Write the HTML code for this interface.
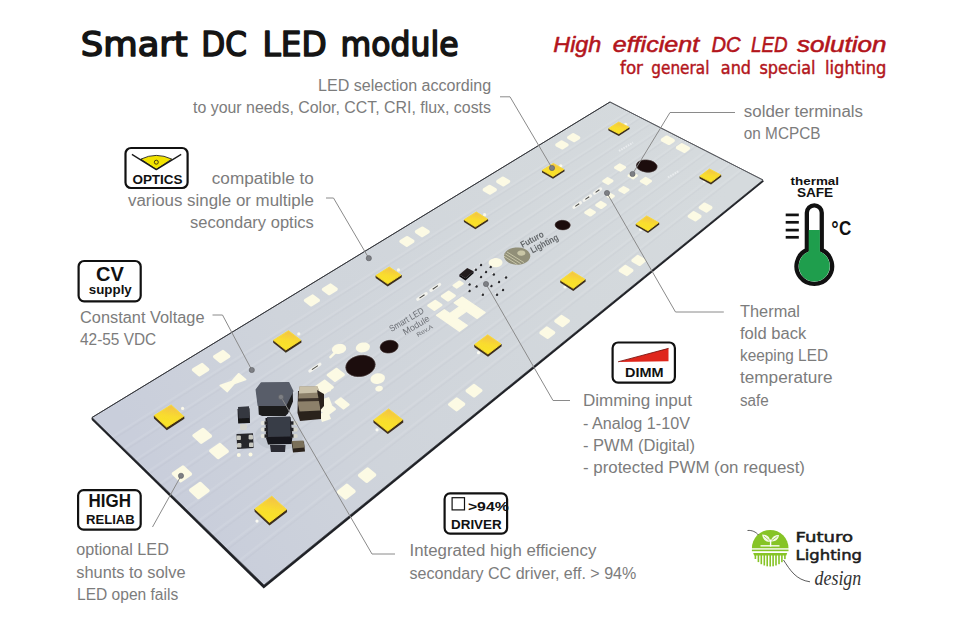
<!DOCTYPE html>
<html><head><meta charset="utf-8"><title>Smart DC LED module</title>
<style>
html,body{margin:0;padding:0;background:#fff;}
body{width:960px;height:640px;overflow:hidden;}
svg{display:block;font-family:"Liberation Sans",sans-serif;}
</style></head><body>
<svg width="960" height="640" viewBox="0 0 960 640">
<rect width="960" height="640" fill="#fff"/>
<g id="board">
<defs>
<linearGradient id="gb" gradientUnits="userSpaceOnUse" x1="180" y1="500" x2="690" y2="140"><stop offset="0" stop-color="#c9cedb"/><stop offset="0.3" stop-color="#cfd4db"/><stop offset="0.7" stop-color="#d3d8dc"/><stop offset="1" stop-color="#d5dadd"/></linearGradient>
<linearGradient id="gl" x1="0.35" y1="1" x2="0.6" y2="0"><stop offset="0" stop-color="#fae527"/><stop offset="0.5" stop-color="#f9dc2e"/><stop offset="1" stop-color="#f3bf4a"/></linearGradient>
<clipPath id="cb"><polygon points="92.0,417.5 610.0,102.0 763.0,180.0 264.0,585.0"/></clipPath>
<filter id="bl" x="-2%" y="-2%" width="104%" height="104%"><feGaussianBlur stdDeviation="0.45"/></filter>
</defs>
<polygon points="91.4,417.7 91.8,420.1 263.7,588.5 763.8,181.6 763.0,180.0" fill="#1f2126"/>
<polygon points="92.0,417.5 610.0,102.0 763.0,180.0 264.0,585.0" fill="url(#gb)" stroke="#3a3b40" stroke-width="0.7"/>
<polyline points="92.0,417.5 610.0,102.0" fill="none" stroke="#34363b" stroke-width="1.0"/>
<polyline points="610.0,102.0 763.0,180.0" fill="none" stroke="#55575c" stroke-width="0.9"/>
<g clip-path="url(#cb)" fill="none">
<line x1="112.0" y1="436.9" x2="628.5" y2="111.4" stroke="#ffffff" stroke-opacity="0.09" stroke-width="2.2"/>
<line x1="113.8" y1="438.8" x2="630.2" y2="112.3" stroke="#9aa0ad" stroke-opacity="0.07" stroke-width="1.4"/>
<line x1="123.6" y1="448.3" x2="639.2" y2="116.9" stroke="#ffffff" stroke-opacity="0.09" stroke-width="2.2"/>
<line x1="125.5" y1="450.2" x2="640.9" y2="117.8" stroke="#9aa0ad" stroke-opacity="0.07" stroke-width="1.4"/>
<line x1="135.5" y1="459.9" x2="650.0" y2="122.4" stroke="#ffffff" stroke-opacity="0.09" stroke-width="2.2"/>
<line x1="137.4" y1="461.7" x2="651.8" y2="123.3" stroke="#9aa0ad" stroke-opacity="0.07" stroke-width="1.4"/>
<line x1="147.6" y1="471.6" x2="661.0" y2="128.0" stroke="#ffffff" stroke-opacity="0.09" stroke-width="2.2"/>
<line x1="149.6" y1="473.6" x2="662.8" y2="128.9" stroke="#9aa0ad" stroke-opacity="0.07" stroke-width="1.4"/>
<line x1="159.9" y1="483.6" x2="672.1" y2="133.7" stroke="#ffffff" stroke-opacity="0.09" stroke-width="2.2"/>
<line x1="161.9" y1="485.6" x2="673.9" y2="134.6" stroke="#9aa0ad" stroke-opacity="0.07" stroke-width="1.4"/>
<line x1="172.5" y1="495.9" x2="683.3" y2="139.4" stroke="#ffffff" stroke-opacity="0.09" stroke-width="2.2"/>
<line x1="174.5" y1="497.9" x2="685.2" y2="140.3" stroke="#9aa0ad" stroke-opacity="0.07" stroke-width="1.4"/>
<line x1="185.3" y1="508.3" x2="694.7" y2="145.2" stroke="#ffffff" stroke-opacity="0.09" stroke-width="2.2"/>
<line x1="187.4" y1="510.4" x2="696.6" y2="146.1" stroke="#9aa0ad" stroke-opacity="0.07" stroke-width="1.4"/>
<line x1="198.3" y1="521.0" x2="706.2" y2="151.0" stroke="#ffffff" stroke-opacity="0.09" stroke-width="2.2"/>
<line x1="200.4" y1="523.1" x2="708.1" y2="152.0" stroke="#9aa0ad" stroke-opacity="0.07" stroke-width="1.4"/>
<line x1="211.6" y1="534.0" x2="717.9" y2="157.0" stroke="#ffffff" stroke-opacity="0.09" stroke-width="2.2"/>
<line x1="213.8" y1="536.1" x2="719.8" y2="158.0" stroke="#9aa0ad" stroke-opacity="0.07" stroke-width="1.4"/>
<line x1="225.2" y1="547.2" x2="729.7" y2="163.0" stroke="#ffffff" stroke-opacity="0.09" stroke-width="2.2"/>
<line x1="227.4" y1="549.4" x2="731.6" y2="164.0" stroke="#9aa0ad" stroke-opacity="0.07" stroke-width="1.4"/>
<line x1="239.0" y1="560.7" x2="741.6" y2="169.1" stroke="#ffffff" stroke-opacity="0.09" stroke-width="2.2"/>
<line x1="241.3" y1="562.9" x2="743.6" y2="170.1" stroke="#9aa0ad" stroke-opacity="0.07" stroke-width="1.4"/>
</g>
<g filter="url(#bl)">
<polygon points="193.5,369.8 202.0,364.6 207.7,369.5 199.3,374.8" fill="#fcfae4" stroke="#fcfae4" stroke-width="3.4" stroke-linejoin="round"/>
<polygon points="214.7,356.7 222.9,351.6 228.7,356.4 220.5,361.5" fill="#fcfae4" stroke="#fcfae4" stroke-width="3.4" stroke-linejoin="round"/>
<polygon points="305.5,300.5 312.6,296.1 318.3,300.4 311.2,304.8" fill="#fcfae4" stroke="#fcfae4" stroke-width="3.4" stroke-linejoin="round"/>
<polygon points="323.5,289.4 330.4,285.1 336.1,289.2 329.2,293.6" fill="#fcfae4" stroke="#fcfae4" stroke-width="3.4" stroke-linejoin="round"/>
<polygon points="401.0,241.4 407.1,237.6 412.8,241.3 406.6,245.2" fill="#fcfae4" stroke="#fcfae4" stroke-width="3.4" stroke-linejoin="round"/>
<polygon points="416.5,231.8 422.4,228.1 428.1,231.8 422.1,235.5" fill="#fcfae4" stroke="#fcfae4" stroke-width="3.4" stroke-linejoin="round"/>
<polygon points="484.3,189.8 489.6,186.5 495.2,189.8 489.9,193.1" fill="#fcfae4" stroke="#fcfae4" stroke-width="3.4" stroke-linejoin="round"/>
<polygon points="497.8,181.5 502.9,178.3 508.5,181.5 503.3,184.7" fill="#fcfae4" stroke="#fcfae4" stroke-width="3.4" stroke-linejoin="round"/>
<polygon points="556.9,144.9 561.6,142.0 567.0,144.9 562.3,147.8" fill="#fcfae4" stroke="#fcfae4" stroke-width="3.4" stroke-linejoin="round"/>
<polygon points="568.7,137.6 573.2,134.8 578.6,137.7 574.1,140.5" fill="#fcfae4" stroke="#fcfae4" stroke-width="3.4" stroke-linejoin="round"/>
<polygon points="338.6,491.9 346.9,485.3 354.0,491.3 345.6,498.0" fill="#fcfae4" stroke="#fcfae4" stroke-width="3.4" stroke-linejoin="round"/>
<polygon points="359.6,475.4 367.6,469.1 374.6,474.9 366.6,481.3" fill="#fcfae4" stroke="#fcfae4" stroke-width="3.4" stroke-linejoin="round"/>
<polygon points="449.7,404.5 456.7,399.1 463.6,404.2 456.6,409.7" fill="#fcfae4" stroke="#fcfae4" stroke-width="3.4" stroke-linejoin="round"/>
<polygon points="467.2,390.8 474.0,385.5 480.8,390.5 474.1,395.8" fill="#fcfae4" stroke="#fcfae4" stroke-width="3.4" stroke-linejoin="round"/>
<polygon points="541.0,332.8 546.9,328.1 553.6,332.6 547.8,337.2" fill="#fcfae4" stroke="#fcfae4" stroke-width="3.4" stroke-linejoin="round"/>
<polygon points="555.9,321.1 561.6,316.6 568.3,320.9 562.6,325.5" fill="#fcfae4" stroke="#fcfae4" stroke-width="3.4" stroke-linejoin="round"/>
<polygon points="620.3,270.5 625.3,266.5 631.8,270.4 626.8,274.4" fill="#fcfae4" stroke="#fcfae4" stroke-width="3.4" stroke-linejoin="round"/>
<polygon points="633.0,260.5 637.9,256.6 644.4,260.4 639.5,264.3" fill="#fcfae4" stroke="#fcfae4" stroke-width="3.4" stroke-linejoin="round"/>
<polygon points="689.3,216.3 693.6,212.8 699.9,216.3 695.5,219.7" fill="#fcfae4" stroke="#fcfae4" stroke-width="3.4" stroke-linejoin="round"/>
<polygon points="700.3,207.6 704.6,204.2 710.8,207.6 706.5,211.0" fill="#fcfae4" stroke="#fcfae4" stroke-width="3.4" stroke-linejoin="round"/>
<polygon points="662.4,139.9 666.5,137.1 673.2,140.5 669.1,143.4" fill="#fcfae4" stroke="#fcfae4" stroke-width="3.4" stroke-linejoin="round"/>
<polygon points="677.5,147.7 681.6,144.8 688.4,148.3 684.3,151.3" fill="#fcfae4" stroke="#fcfae4" stroke-width="3.4" stroke-linejoin="round"/>
<polygon points="194.0,435.6 203.1,429.5 210.4,436.1 201.3,442.2" fill="#fcfae4" stroke="#fcfae4" stroke-width="3.4" stroke-linejoin="round"/>
<polygon points="210.7,450.8 219.8,444.6 227.2,451.3 218.1,457.6" fill="#fcfae4" stroke="#fcfae4" stroke-width="3.4" stroke-linejoin="round"/>
<polygon points="173.4,473.6 182.9,467.1 190.4,474.1 180.8,480.7" fill="#fcfae4" stroke="#fcfae4" stroke-width="3.4" stroke-linejoin="round"/>
<polygon points="190.7,490.2 200.3,483.5 208.0,490.7 198.4,497.5" fill="#fcfae4" stroke="#fcfae4" stroke-width="3.4" stroke-linejoin="round"/>
<polygon points="615.2,167.6 619.8,164.5 625.0,167.3 620.4,170.5" fill="#fcfae4" stroke="#fcfae4" stroke-width="2.4" stroke-linejoin="round"/>
<polygon points="641.0,181.2 645.6,178.0 650.9,181.0 646.4,184.2" fill="#fcfae4" stroke="#fcfae4" stroke-width="2.4" stroke-linejoin="round"/>
<polygon points="603.4,181.2 607.6,178.3 612.3,180.9 608.1,183.8" fill="#fcfae4" stroke="#fcfae4" stroke-width="2.4" stroke-linejoin="round"/>
<polygon points="619.5,190.1 623.6,187.2 628.4,189.8 624.2,192.8" fill="#fcfae4" stroke="#fcfae4" stroke-width="2.4" stroke-linejoin="round"/>
<polygon points="596.4,205.1 600.8,202.0 605.6,204.8 601.2,207.9" fill="#fcfae4" stroke="#fcfae4" stroke-width="2.4" stroke-linejoin="round"/>
<polygon points="585.4,212.6 589.9,209.5 594.7,212.3 590.3,215.4" fill="#fcfae4" stroke="#fcfae4" stroke-width="2.4" stroke-linejoin="round"/>
<polygon points="628.7,175.8 632.3,173.2 636.7,175.6 633.1,178.2" fill="#fcfae4" stroke="#fcfae4" stroke-width="2.4" stroke-linejoin="round"/>
<polygon points="607.8,196.1 610.5,194.2 613.7,196.0 611.0,197.9" fill="#fcfae4" stroke="#fcfae4" stroke-width="2.4" stroke-linejoin="round"/>
<line x1="594.4" y1="193.2" x2="600.6" y2="188.9" stroke="#f4f4ee" stroke-width="3.2" stroke-linecap="round"/>
<line x1="595.6" y1="192.4" x2="599.4" y2="189.8" stroke="#4a4a48" stroke-width="1.1"/>
<line x1="584.1" y1="200.3" x2="590.5" y2="195.9" stroke="#f4f4ee" stroke-width="3.2" stroke-linecap="round"/>
<line x1="585.4" y1="199.4" x2="589.2" y2="196.8" stroke="#4a4a48" stroke-width="1.1"/>
<line x1="574.0" y1="207.3" x2="580.5" y2="202.8" stroke="#f4f4ee" stroke-width="3.2" stroke-linecap="round"/>
<line x1="575.3" y1="206.4" x2="579.2" y2="203.7" stroke="#4a4a48" stroke-width="1.1"/>
<line x1="430.9" y1="290.4" x2="439.6" y2="284.5" stroke="#f4f4ee" stroke-width="3.2" stroke-linecap="round"/>
<line x1="432.7" y1="289.2" x2="437.9" y2="285.6" stroke="#4a4a48" stroke-width="1.1"/>
<line x1="417.8" y1="299.3" x2="426.2" y2="293.6" stroke="#f4f4ee" stroke-width="3.2" stroke-linecap="round"/>
<line x1="419.5" y1="298.1" x2="424.5" y2="294.7" stroke="#4a4a48" stroke-width="1.1"/>
<line x1="309.9" y1="371.0" x2="319.9" y2="364.2" stroke="#f4f4ee" stroke-width="3.2" stroke-linecap="round"/>
<line x1="311.9" y1="369.6" x2="317.9" y2="365.6" stroke="#4a4a48" stroke-width="1.1"/>
<polygon points="436.4,315.2 444.3,309.7 467.3,325.6 459.4,331.3" fill="#fcfae4" stroke="#fcfae4" stroke-width="1.2" stroke-linejoin="round"/>
<polygon points="454.1,302.8 462.3,297.0 485.2,312.5 477.1,318.4" fill="#fcfae4" stroke="#fcfae4" stroke-width="1.2" stroke-linejoin="round"/>
<polygon points="449.8,313.5 459.7,306.6 466.5,311.2 456.6,318.2" fill="#fcfae4" stroke="#fcfae4" stroke-width="1.2" stroke-linejoin="round"/>
<polygon points="442.0,296.3 448.7,291.7 454.7,295.7 448.0,300.4" fill="#fcfae4" stroke="#fcfae4" stroke-width="2.4" stroke-linejoin="round"/>
<polygon points="428.4,305.6 435.3,300.9 441.3,305.0 434.4,309.8" fill="#fcfae4" stroke="#fcfae4" stroke-width="2.4" stroke-linejoin="round"/>
<polygon points="453.4,285.5 459.5,281.4 462.8,283.6 456.7,287.7" fill="#fcfae4" stroke="#fcfae4" stroke-width="2.0" stroke-linejoin="round"/>
<polygon points="500.4,259.3 501.4,260.1 502.1,261.0 502.4,262.0 502.5,263.0 502.1,264.0 501.5,265.0 500.6,265.8 499.4,266.5 498.0,267.0 496.5,267.2 494.9,267.2 493.4,267.0 492.0,266.6 490.8,266.0 489.8,265.2 489.1,264.3 488.8,263.3 488.8,262.3 489.1,261.3 489.8,260.3 490.7,259.5 491.9,258.9 493.3,258.4 494.8,258.1 496.3,258.1 497.8,258.3 499.2,258.7" fill="#fcfae4"/>
<polygon points="344.5,345.2 345.4,346.1 345.9,347.1 346.1,348.2 346.0,349.3 345.5,350.4 344.6,351.4 343.5,352.4 342.2,353.1 340.7,353.6 339.1,353.9 337.5,354.0 336.0,353.8 334.6,353.3 333.5,352.7 332.7,351.8 332.1,350.8 331.9,349.7 332.1,348.6 332.6,347.5 333.5,346.4 334.6,345.5 335.9,344.8 337.4,344.3 339.0,344.0 340.6,343.9 342.1,344.1 343.4,344.6" fill="#fcfae4"/>
<polygon points="368.2,343.7 369.1,344.5 369.7,345.5 369.9,346.6 369.7,347.7 369.3,348.8 368.5,349.9 367.4,350.8 366.1,351.5 364.6,352.0 363.0,352.3 361.4,352.4 359.9,352.2 358.6,351.7 357.4,351.1 356.6,350.2 356.0,349.2 355.8,348.1 356.0,347.0 356.5,345.9 357.3,344.9 358.4,344.0 359.7,343.2 361.1,342.7 362.7,342.4 364.2,342.4 365.7,342.6 367.1,343.0" fill="#fcfae4"/>
<polygon points="383.2,374.7 384.1,375.5 384.7,376.6 384.9,377.7 384.8,378.9 384.3,380.1 383.5,381.2 382.4,382.2 381.1,383.0 379.6,383.6 378.0,383.9 376.3,383.9 374.8,383.7 373.4,383.3 372.2,382.5 371.3,381.6 370.7,380.6 370.5,379.4 370.6,378.2 371.1,377.0 371.9,376.0 373.0,375.0 374.4,374.2 375.9,373.6 377.5,373.3 379.1,373.3 380.6,373.5 382.0,374.0" fill="#fcfae4"/>
<polygon points="381.9,386.5 382.4,387.0 382.7,387.5 382.8,388.1 382.8,388.8 382.5,389.4 382.1,390.0 381.5,390.5 380.8,390.9 380.0,391.2 379.2,391.4 378.3,391.4 377.5,391.3 376.8,391.0 376.2,390.7 375.7,390.2 375.4,389.6 375.3,389.0 375.3,388.4 375.6,387.8 376.0,387.2 376.6,386.7 377.3,386.3 378.1,386.0 378.9,385.8 379.7,385.8 380.6,385.9 381.3,386.1" fill="#fcfae4"/>
<line x1="339.0" y1="348.9" x2="330.4" y2="357.2" stroke="#fcfae4" stroke-width="2.4" stroke-linecap="round"/>
<polygon points="327.9,375.1 336.5,369.1 343.6,374.6 335.0,380.7" fill="#fcfae4" stroke="#fcfae4" stroke-width="2.6" stroke-linejoin="round"/>
<polygon points="315.9,387.1 324.8,380.9 332.6,387.2 323.7,393.4" fill="#fcfae4" stroke="#fcfae4" stroke-width="2.6" stroke-linejoin="round"/>
<polygon points="312.6,402.8 320.3,397.3 334.8,409.1 327.1,414.7" fill="#fcfae4" stroke="#fcfae4" stroke-width="2.4" stroke-linejoin="round"/>
<polygon points="335.8,402.1 340.8,398.5 348.5,404.6 343.5,408.3" fill="#fcfae4" stroke="#fcfae4" stroke-width="2.4" stroke-linejoin="round"/>
<polygon points="220.2,385.5 231.7,381.4 238.6,373.7 245.7,379.6 234.3,383.6 227.3,391.6" fill="#fcfae4" stroke="#fcfae4" stroke-width="1.5" stroke-linejoin="round"/>
<circle cx="481.0" cy="265.0" r="1.25" fill="#2b2b2e"/><circle cx="479.7" cy="264.1" r="0.7" fill="#f2f2f2"/>
<circle cx="490.6" cy="267.0" r="1.25" fill="#2b2b2e"/><circle cx="489.3" cy="266.1" r="0.7" fill="#f2f2f2"/>
<circle cx="475.8" cy="269.7" r="1.25" fill="#2b2b2e"/><circle cx="474.5" cy="268.8" r="0.7" fill="#f2f2f2"/>
<circle cx="486.0" cy="272.0" r="1.25" fill="#2b2b2e"/><circle cx="484.7" cy="271.1" r="0.7" fill="#f2f2f2"/>
<circle cx="493.8" cy="274.4" r="1.25" fill="#2b2b2e"/><circle cx="492.5" cy="273.5" r="0.7" fill="#f2f2f2"/>
<circle cx="481.0" cy="277.0" r="1.25" fill="#2b2b2e"/><circle cx="479.7" cy="276.1" r="0.7" fill="#f2f2f2"/>
<circle cx="506.0" cy="277.5" r="1.25" fill="#2b2b2e"/><circle cx="504.7" cy="276.6" r="0.7" fill="#f2f2f2"/>
<circle cx="499.0" cy="282.0" r="1.25" fill="#2b2b2e"/><circle cx="497.7" cy="281.1" r="0.7" fill="#f2f2f2"/>
<circle cx="491.4" cy="286.0" r="1.25" fill="#2b2b2e"/><circle cx="490.1" cy="285.1" r="0.7" fill="#f2f2f2"/>
<circle cx="469.5" cy="284.5" r="1.25" fill="#2b2b2e"/><circle cx="468.2" cy="283.6" r="0.7" fill="#f2f2f2"/>
<circle cx="476.5" cy="286.5" r="1.25" fill="#2b2b2e"/><circle cx="475.2" cy="285.6" r="0.7" fill="#f2f2f2"/>
<circle cx="503.0" cy="290.0" r="1.25" fill="#2b2b2e"/><circle cx="501.7" cy="289.1" r="0.7" fill="#f2f2f2"/>
<circle cx="469.5" cy="291.0" r="1.25" fill="#2b2b2e"/><circle cx="468.2" cy="290.1" r="0.7" fill="#f2f2f2"/>
<circle cx="482.8" cy="294.7" r="1.25" fill="#2b2b2e"/><circle cx="481.5" cy="293.8" r="0.7" fill="#f2f2f2"/>
<circle cx="497.0" cy="294.7" r="1.25" fill="#2b2b2e"/><circle cx="495.7" cy="293.8" r="0.7" fill="#f2f2f2"/>
<circle cx="182.6" cy="408.4" r="1.6" fill="#fbf9ea"/>
<circle cx="257.0" cy="521.1" r="1.6" fill="#fbfbf2"/>
<circle cx="298.8" cy="333.9" r="1.6" fill="#fbf9ea"/>
<circle cx="377.0" cy="429.8" r="1.6" fill="#fbfbf2"/>
<circle cx="398.5" cy="269.9" r="1.6" fill="#fbf9ea"/>
<circle cx="478.5" cy="352.7" r="1.6" fill="#fbfbf2"/>
<circle cx="484.6" cy="214.7" r="1.6" fill="#fbf9ea"/>
<circle cx="565.0" cy="287.0" r="1.6" fill="#fbfbf2"/>
<circle cx="560.8" cy="165.8" r="1.6" fill="#fbf9ea"/>
<circle cx="640.7" cy="229.4" r="1.6" fill="#fbfbf2"/>
<circle cx="625.6" cy="124.3" r="1.6" fill="#fbf9ea"/>
<circle cx="704.5" cy="180.9" r="1.6" fill="#fbfbf2"/>
<g transform="translate(0.7,1.0)">
<polygon points="652.5,160.5 654.3,161.6 655.5,162.9 656.4,164.2 656.7,165.7 656.5,167.1 655.7,168.4 654.5,169.5 652.8,170.4 650.8,171.1 648.6,171.4 646.2,171.4 643.8,171.1 641.5,170.5 639.5,169.6 637.8,168.5 636.5,167.2 635.7,165.8 635.4,164.3 635.7,162.9 636.4,161.7 637.7,160.5 639.4,159.6 641.4,159.0 643.6,158.7 645.9,158.7 648.3,159.0 650.5,159.6" fill="#1b0c0c" stroke="#e9ebee" stroke-opacity="0.55" stroke-width="1.4"/>
<polygon points="652.4,160.6 654.0,161.7 655.3,162.9 656.1,164.3 656.4,165.7 656.2,167.0 655.4,168.3 654.2,169.4 652.6,170.3 650.7,170.9 648.5,171.2 646.2,171.2 643.9,170.9 641.7,170.3 639.7,169.5 638.0,168.4 636.8,167.1 636.0,165.7 635.7,164.4 636.0,163.0 636.7,161.8 637.9,160.7 639.6,159.8 641.5,159.2 643.7,158.9 645.9,158.9 648.2,159.2 650.4,159.8" fill="#1b0c0c" stroke="#544a4a" stroke-width="0.6"/>
</g>
<g transform="translate(0.7,1.0)">
<polygon points="567.1,220.5 568.3,221.3 569.1,222.3 569.6,223.4 569.7,224.5 569.4,225.6 568.8,226.6 567.8,227.5 566.5,228.3 565.0,228.8 563.3,229.0 561.6,229.1 559.8,228.8 558.2,228.4 556.8,227.7 555.6,226.8 554.8,225.8 554.3,224.7 554.2,223.6 554.5,222.5 555.2,221.5 556.2,220.6 557.5,219.9 559.0,219.4 560.6,219.1 562.4,219.1 564.1,219.4 565.7,219.8" fill="#1b0c0c" stroke="#e9ebee" stroke-opacity="0.55" stroke-width="1.4"/>
<polygon points="566.9,220.6 568.1,221.4 568.9,222.4 569.4,223.4 569.5,224.5 569.2,225.6 568.6,226.6 567.6,227.4 566.4,228.1 564.9,228.6 563.3,228.9 561.6,228.9 559.9,228.7 558.3,228.2 556.9,227.6 555.8,226.7 555.0,225.8 554.5,224.7 554.4,223.6 554.7,222.6 555.4,221.6 556.3,220.7 557.6,220.0 559.1,219.6 560.7,219.3 562.4,219.3 564.0,219.5 565.6,219.9" fill="#1b0c0c" stroke="#544a4a" stroke-width="0.6"/>
</g>
<g transform="translate(0.7,1.0)">
<polygon points="395.4,340.8 396.6,341.9 397.4,343.2 397.7,344.6 397.6,346.1 397.0,347.6 396.0,348.9 394.6,350.2 392.9,351.1 390.9,351.8 388.9,352.2 386.8,352.3 384.8,352.0 382.9,351.4 381.4,350.5 380.2,349.4 379.5,348.1 379.2,346.6 379.3,345.1 379.9,343.7 381.0,342.3 382.4,341.1 384.1,340.2 386.0,339.5 388.1,339.1 390.1,339.0 392.1,339.3 393.9,339.9" fill="#1b0c0c" stroke="#e9ebee" stroke-opacity="0.55" stroke-width="1.4"/>
<polygon points="395.2,340.9 396.4,342.0 397.1,343.3 397.4,344.6 397.3,346.1 396.7,347.5 395.8,348.8 394.4,350.0 392.7,351.0 390.8,351.7 388.8,352.0 386.8,352.1 384.9,351.8 383.1,351.3 381.6,350.4 380.5,349.3 379.7,348.0 379.4,346.6 379.6,345.2 380.2,343.7 381.2,342.4 382.6,341.3 384.2,340.3 386.1,339.7 388.1,339.3 390.1,339.2 392.0,339.5 393.7,340.1" fill="#1b0c0c" stroke="#544a4a" stroke-width="0.6"/>
</g>
<g transform="translate(0.7,1.0)">
<polygon points="371.3,356.8 373.2,358.7 374.4,360.8 374.9,363.2 374.6,365.6 373.6,368.0 371.9,370.3 369.6,372.3 366.7,374.0 363.5,375.2 360.2,375.8 356.7,376.0 353.5,375.5 350.6,374.5 348.1,373.0 346.2,371.2 345.1,369.0 344.7,366.6 345.0,364.1 346.1,361.7 347.8,359.4 350.2,357.5 353.0,355.9 356.2,354.8 359.5,354.1 362.8,354.0 366.0,354.5 368.9,355.4" fill="#1b0c0c" stroke="#e9ebee" stroke-opacity="0.55" stroke-width="1.4"/>
<polygon points="371.0,357.1 372.8,358.8 374.0,360.9 374.4,363.2 374.2,365.6 373.2,368.0 371.5,370.2 369.3,372.1 366.5,373.7 363.4,374.9 360.1,375.5 356.8,375.6 353.7,375.2 350.8,374.2 348.4,372.8 346.6,371.0 345.5,368.8 345.1,366.5 345.4,364.1 346.5,361.8 348.2,359.6 350.5,357.7 353.2,356.2 356.3,355.1 359.5,354.4 362.8,354.3 365.8,354.8 368.6,355.7" fill="#1b0c0c" stroke="#544a4a" stroke-width="0.6"/>
</g>
<polygon points="526.2,249.7 528.1,251.2 529.4,252.9 530.2,254.8 530.3,256.7 529.7,258.6 528.5,260.4 526.8,262.0 524.5,263.3 521.9,264.2 519.0,264.7 516.1,264.7 513.1,264.3 510.4,263.5 508.1,262.3 506.2,260.8 504.9,259.1 504.2,257.2 504.1,255.2 504.7,253.3 506.0,251.5 507.7,250.0 510.0,248.8 512.6,247.9 515.4,247.4 518.3,247.4 521.2,247.7 523.8,248.5" fill="#918f78"/>
<line x1="507.0" y1="252.0" x2="523.9" y2="262.6" stroke="#d6d3b4" stroke-width="0.8"/>
<line x1="505.4" y1="254.0" x2="520.7" y2="263.6" stroke="#d6d3b4" stroke-width="0.8"/>
<line x1="503.7" y1="256.0" x2="517.4" y2="264.6" stroke="#d6d3b4" stroke-width="0.8"/>
<polygon points="524.1,251.1 524.7,251.6 525.1,252.1 525.3,252.7 525.4,253.3 525.2,253.9 524.8,254.5 524.3,254.9 523.6,255.3 522.8,255.6 521.9,255.7 521.0,255.8 520.1,255.6 519.3,255.4 518.5,255.0 517.9,254.6 517.5,254.0 517.3,253.4 517.3,252.8 517.5,252.3 517.8,251.7 518.4,251.2 519.1,250.9 519.9,250.6 520.7,250.4 521.7,250.4 522.5,250.5 523.4,250.8" fill="#c9c6a6"/>
<text transform="translate(522.5,248.0) rotate(-28.0)" font-size="9.2" fill="#63676a" font-weight="bold" textLength="25.0" lengthAdjust="spacingAndGlyphs">Futuro</text>
<text transform="translate(532.5,253.4) rotate(-28.0)" font-size="9.2" fill="#63676a" font-weight="bold" textLength="30.0" lengthAdjust="spacingAndGlyphs">Lighting</text>
<text transform="translate(391.5,332.0) rotate(-30.5)" font-size="9.0" fill="#6b6e74" font-weight="normal" textLength="38.5" lengthAdjust="spacingAndGlyphs">Smart LED</text>
<text transform="translate(405.0,335.3) rotate(-30.5)" font-size="9.0" fill="#6b6e74" font-weight="normal" textLength="29.5" lengthAdjust="spacingAndGlyphs">Module</text>
<text transform="translate(418.0,337.0) rotate(-30.5)" font-size="6.0" fill="#6b6e74" font-weight="normal" textLength="18.0" lengthAdjust="spacingAndGlyphs">Rev.A</text>
<line x1="619" y1="151" x2="633" y2="142.6" stroke="#eef0f2" stroke-width="2" stroke-dasharray="1.6 1" opacity="0.8"/>
<line x1="668" y1="177.5" x2="678.5" y2="171.2" stroke="#eef0f2" stroke-width="2" stroke-dasharray="1.6 1" opacity="0.8"/>
<polygon points="459.4,274.4 467.2,268.0 473.6,271.3 465.5,278.2" fill="#241c1e" />
<polygon points="459.4,274.4 465.5,278.2 473.6,271.3 473.6,273.3 465.5,280.4 459.4,276.4" fill="#0f0b0c" />
<polygon points="318.0,386.0 328.0,383.0 331.0,391.0 321.0,394.0" fill="#fcfae4" />
<polygon points="320.0,400.0 329.0,397.0 332.0,405.0 323.0,408.0" fill="#fcfae4" />
<polygon points="319.0,414.0 328.0,411.0 331.0,419.0 322.0,422.0" fill="#fcfae4" />
<ellipse cx="279" cy="436" rx="24" ry="14" fill="#6d7180" opacity="0.10"/>
<polygon points="298.0,391.0 318.5,391.0 321.0,398.0 321.0,419.0 300.0,421.0 297.5,413.0" fill="#2a221e" />
<polygon points="299.5,386.5 317.5,386.5 320.5,395.0 320.5,410.5 299.5,411.5 297.8,403.0" fill="#8c806a" />
<polygon points="299.5,386.5 317.5,386.5 319.5,392.5 298.8,393.5" fill="#c9c0a8" />
<polygon points="298.0,398.5 320.5,398.0 320.5,401.0 298.0,401.5" fill="#3a302a" />
<polygon points="317.0,390.0 324.0,394.0 324.0,406.0 320.5,410.0" fill="#2a221e" />
<polygon points="256.3,389.7 258.3,405.3 258.8,414.5 262.0,416.0 285.5,416.0 288.0,413.5 293.0,401.5 292.7,391.2" fill="#1b1a1e" />
<polygon points="256.3,389.7 261.4,382.9 288.6,382.7 292.7,391.2 285.6,405.3 258.3,405.3" fill="#585d69" stroke="#585d69" stroke-width="1.5" stroke-linejoin="round"/>
<polygon points="265.5,418.0 290.5,417.0 292.5,437.0 291.5,444.0 268.0,444.5 266.0,438.0" fill="#17171b" />
<polygon points="267.0,417.0 290.0,416.5 291.0,436.5 268.0,437.0" fill="#393c46" />
<rect x="260.8" y="421.0" width="6" height="4" rx="1.5" fill="#e6e6de"/>
<rect x="291.5" y="421.0" width="6.2" height="4" rx="1.5" fill="#d6d6cc"/>
<rect x="264.5" y="421.3" width="3" height="3.4" fill="#222226"/>
<rect x="290.5" y="421.3" width="3" height="3.4" fill="#222226"/>
<rect x="260.8" y="427.5" width="6" height="4" rx="1.5" fill="#e6e6de"/>
<rect x="291.5" y="427.5" width="6.2" height="4" rx="1.5" fill="#d6d6cc"/>
<rect x="264.5" y="427.8" width="3" height="3.4" fill="#222226"/>
<rect x="290.5" y="427.8" width="3" height="3.4" fill="#222226"/>
<rect x="260.8" y="434.0" width="6" height="4" rx="1.5" fill="#e6e6de"/>
<rect x="291.5" y="434.0" width="6.2" height="4" rx="1.5" fill="#d6d6cc"/>
<rect x="264.5" y="434.3" width="3" height="3.4" fill="#222226"/>
<rect x="290.5" y="434.3" width="3" height="3.4" fill="#222226"/>
<polygon points="270.0,445.0 285.6,445.0 285.0,452.0 271.0,452.0" fill="#2a2a30" />
<polygon points="291.5,442.0 304.0,441.5 305.0,451.5 293.0,452.5" fill="#2a241c" />
<polygon points="292.0,441.0 303.5,440.5 304.5,447.5 293.0,448.5" fill="#7a705a" />
<polygon points="237.5,409.0 249.5,408.2 250.0,423.0 238.2,423.5" fill="#141417" />
<polygon points="238.0,407.0 249.0,406.3 249.4,418.0 238.6,418.5" fill="#363841" />
<rect x="240" y="424" width="7" height="6" rx="2" fill="#d4d4cc"/>
<polygon points="236.5,434.0 253.0,433.2 253.6,448.0 237.2,449.0" fill="#25252a" />
<rect x="236.5" y="435.5" width="4.4" height="4.6" rx="1.2" fill="#c8c8c0"/><rect x="248.6" y="434.8" width="4.4" height="4.6" rx="1.2" fill="#c8c8c0"/>
<rect x="237" y="443" width="4.4" height="4.6" rx="1.2" fill="#c8c8c0"/><rect x="249" y="442.5" width="4.4" height="4.6" rx="1.2" fill="#c8c8c0"/>
<circle cx="238.8" cy="455" r="2" fill="#fcfae4"/><circle cx="250.5" cy="454.5" r="2" fill="#fcfae4"/>
<polygon points="153.8,415.8 154.0,418.4 166.8,430.2 184.4,418.8 184.2,416.3" fill="#2a1c0a" opacity="0.9"/>
<polygon points="154.2,415.6 154.2,416.8 166.8,428.5 166.8,427.2" fill="#6b4d0a"/>
<polygon points="166.8,427.2 166.8,428.5 183.7,417.5 183.7,416.3" fill="#4a3406"/>
<polygon points="154.2,415.6 171.1,404.9 183.7,416.3 166.8,427.2" fill="url(#gl)" stroke="#f8dc34" stroke-width="0.9" stroke-linejoin="round"/>
<polygon points="273.1,340.4 273.3,342.8 285.8,352.7 301.5,342.6 301.3,340.2" fill="#2a1c0a" opacity="0.9"/>
<polygon points="273.5,340.2 273.5,341.3 285.8,351.1 285.8,349.9" fill="#6b4d0a"/>
<polygon points="285.8,349.9 285.8,351.1 300.8,341.4 300.8,340.2" fill="#4a3406"/>
<polygon points="273.5,340.2 288.5,330.7 300.8,340.2 285.8,349.9" fill="url(#gl)" stroke="#f8dc34" stroke-width="0.9" stroke-linejoin="round"/>
<polygon points="375.5,275.7 375.7,277.9 387.7,286.4 401.8,277.3 401.6,275.1" fill="#2a1c0a" opacity="0.9"/>
<polygon points="375.9,275.5 375.9,276.6 387.7,284.8 387.7,283.8" fill="#6b4d0a"/>
<polygon points="387.7,283.8 387.7,284.8 401.1,276.2 401.1,275.1" fill="#4a3406"/>
<polygon points="375.9,275.5 389.3,267.0 401.1,275.1 387.7,283.8" fill="url(#gl)" stroke="#f8dc34" stroke-width="0.9" stroke-linejoin="round"/>
<polygon points="463.8,219.9 464.0,222.0 475.4,229.3 488.2,221.1 488.0,219.0" fill="#2a1c0a" opacity="0.9"/>
<polygon points="464.2,219.7 464.2,220.7 475.4,227.8 475.4,226.8" fill="#6b4d0a"/>
<polygon points="475.4,226.8 475.4,227.8 487.5,220.0 487.5,219.0" fill="#4a3406"/>
<polygon points="464.2,219.7 476.3,212.0 487.5,219.0 475.4,226.8" fill="url(#gl)" stroke="#f8dc34" stroke-width="0.9" stroke-linejoin="round"/>
<polygon points="541.9,170.5 542.1,172.5 553.0,178.8 564.6,171.3 564.4,169.4" fill="#2a1c0a" opacity="0.9"/>
<polygon points="542.3,170.3 542.3,171.3 553.0,177.4 553.0,176.4" fill="#6b4d0a"/>
<polygon points="553.0,176.4 553.0,177.4 563.9,170.3 563.9,169.4" fill="#4a3406"/>
<polygon points="542.3,170.3 553.3,163.4 563.9,169.4 553.0,176.4" fill="url(#gl)" stroke="#f8dc34" stroke-width="0.9" stroke-linejoin="round"/>
<polygon points="608.3,128.6 608.5,130.4 618.8,136.0 629.6,129.1 629.4,127.2" fill="#2a1c0a" opacity="0.9"/>
<polygon points="608.7,128.4 608.7,129.2 618.8,134.6 618.8,133.7" fill="#6b4d0a"/>
<polygon points="618.8,133.7 618.8,134.6 628.9,128.1 628.9,127.2" fill="#4a3406"/>
<polygon points="608.7,128.4 618.8,122.0 628.9,127.2 618.8,133.7" fill="url(#gl)" stroke="#f8dc34" stroke-width="0.9" stroke-linejoin="round"/>
<polygon points="254.5,509.1 254.7,511.8 269.5,525.5 287.1,512.1 286.9,509.4" fill="#2a1c0a" opacity="0.9"/>
<polygon points="254.9,508.9 254.9,510.2 269.5,523.7 269.5,522.4" fill="#6b4d0a"/>
<polygon points="269.5,522.4 269.5,523.7 286.4,510.7 286.4,509.4" fill="#4a3406"/>
<polygon points="254.9,508.9 271.8,496.2 286.4,509.4 269.5,522.4" fill="url(#gl)" stroke="#f8dc34" stroke-width="0.9" stroke-linejoin="round"/>
<polygon points="373.4,420.2 373.6,422.7 387.8,434.1 403.3,422.4 403.1,419.8" fill="#2a1c0a" opacity="0.9"/>
<polygon points="373.8,420.0 373.8,421.2 387.8,432.4 387.8,431.2" fill="#6b4d0a"/>
<polygon points="387.8,431.2 387.8,432.4 402.6,421.1 402.6,419.8" fill="#4a3406"/>
<polygon points="373.8,420.0 388.6,408.9 402.6,419.8 387.8,431.2" fill="url(#gl)" stroke="#f8dc34" stroke-width="0.9" stroke-linejoin="round"/>
<polygon points="474.2,344.8 474.4,347.2 488.0,356.8 501.7,346.3 501.5,344.0" fill="#2a1c0a" opacity="0.9"/>
<polygon points="474.6,344.6 474.6,345.8 488.0,355.2 488.0,354.0" fill="#6b4d0a"/>
<polygon points="488.0,354.0 488.0,355.2 501.0,345.1 501.0,344.0" fill="#4a3406"/>
<polygon points="474.6,344.6 487.7,334.8 501.0,344.0 488.0,354.0" fill="url(#gl)" stroke="#f8dc34" stroke-width="0.9" stroke-linejoin="round"/>
<polygon points="560.2,280.5 560.4,282.7 573.3,290.9 585.7,281.5 585.5,279.3" fill="#2a1c0a" opacity="0.9"/>
<polygon points="560.6,280.3 560.6,281.4 573.3,289.3 573.3,288.3" fill="#6b4d0a"/>
<polygon points="573.3,288.3 573.3,289.3 585.0,280.3 585.0,279.3" fill="#4a3406"/>
<polygon points="560.6,280.3 572.4,271.5 585.0,279.3 573.3,288.3" fill="url(#gl)" stroke="#f8dc34" stroke-width="0.9" stroke-linejoin="round"/>
<polygon points="635.7,224.1 635.9,226.1 648.0,233.1 659.3,224.6 659.1,222.6" fill="#2a1c0a" opacity="0.9"/>
<polygon points="636.1,223.9 636.1,224.8 648.0,231.6 648.0,230.7" fill="#6b4d0a"/>
<polygon points="648.0,230.7 648.0,231.6 658.6,223.6 658.6,222.6" fill="#4a3406"/>
<polygon points="636.1,223.9 646.7,215.9 658.6,222.6 648.0,230.7" fill="url(#gl)" stroke="#f8dc34" stroke-width="0.9" stroke-linejoin="round"/>
<polygon points="699.4,176.5 699.6,178.4 711.0,184.5 721.3,176.7 721.1,174.8" fill="#2a1c0a" opacity="0.9"/>
<polygon points="699.8,176.3 699.8,177.1 711.0,183.0 711.0,182.1" fill="#6b4d0a"/>
<polygon points="711.0,182.1 711.0,183.0 720.6,175.7 720.6,174.8" fill="#4a3406"/>
<polygon points="699.8,176.3 709.5,169.0 720.6,174.8 711.0,182.1" fill="url(#gl)" stroke="#f8dc34" stroke-width="0.9" stroke-linejoin="round"/>
</g>
</g>
<g id="leaders">
<polyline points="500.0,96.8 510.0,96.8 552.0,168.0" fill="none" stroke="#8a8a8a" stroke-width="1"/>
<circle cx="552.0" cy="168.0" r="2.6" fill="#7d7f84" stroke="#5c5e63" stroke-width="0.6"/>
<polyline points="735.0,112.5 670.0,112.5 632.5,174.0" fill="none" stroke="#8a8a8a" stroke-width="1"/>
<circle cx="632.5" cy="174.0" r="2.6" fill="#7d7f84" stroke="#5c5e63" stroke-width="0.6"/>
<polyline points="326.0,198.0 333.5,198.0 368.8,258.2" fill="none" stroke="#8a8a8a" stroke-width="1"/>
<circle cx="368.8" cy="258.2" r="2.6" fill="#7d7f84" stroke="#5c5e63" stroke-width="0.6"/>
<polyline points="212.5,315.0 222.5,315.0 251.8,370.0" fill="none" stroke="#8a8a8a" stroke-width="1"/>
<circle cx="251.8" cy="370.0" r="2.6" fill="#7d7f84" stroke="#5c5e63" stroke-width="0.6"/>
<polyline points="152.5,527.0 181.0,475.8" fill="none" stroke="#8a8a8a" stroke-width="1"/>
<circle cx="181.0" cy="475.8" r="2.6" fill="#7d7f84" stroke="#5c5e63" stroke-width="0.6"/>
<polyline points="395.0,554.0 372.0,554.0 281.0,397.0" fill="none" stroke="#8a8a8a" stroke-width="1"/>
<circle cx="281.0" cy="397.0" r="2.6" fill="#7d7f84" stroke="#5c5e63" stroke-width="0.6"/>
<polyline points="570.0,400.5 553.0,400.5 486.0,284.0" fill="none" stroke="#8a8a8a" stroke-width="1"/>
<circle cx="486.0" cy="284.0" r="2.6" fill="#7d7f84" stroke="#5c5e63" stroke-width="0.6"/>
<polyline points="723.8,312.0 675.5,312.0 607.0,193.0" fill="none" stroke="#8a8a8a" stroke-width="1"/>
<circle cx="607.0" cy="193.0" r="2.6" fill="#7d7f84" stroke="#5c5e63" stroke-width="0.6"/>
</g>
<g id="icons">
<rect x="125.5" y="148.0" width="62.1" height="40.0" rx="5.5" ry="5.5" fill="#fff" stroke="#111" stroke-width="2.2"/>
<path d="M140.9,159.1 Q156.3,151.7 171.8,159.1 L156.3,169.4 Z" fill="#f2e300" stroke="#222" stroke-width="0.9" stroke-linejoin="round"/>
<polyline points="131.9,154.4 156.3,169.6 181.2,154.4" fill="none" stroke="#1a1a1a" stroke-width="1.3" stroke-linejoin="round"/>
<circle cx="156.3" cy="162.2" r="2.0" fill="#f2e300" stroke="#4a3c10" stroke-width="1"/>
<text x="132.4" y="183.5" font-size="13.6" fill="#111" font-weight="bold" textLength="50.2" lengthAdjust="spacingAndGlyphs">OPTICS</text>
<rect x="78.6" y="261.0" width="62.1" height="40.3" rx="5.5" ry="5.5" fill="#fff" stroke="#111" stroke-width="2.2"/>
<text x="96.0" y="281.4" font-size="19.4" fill="#111" font-weight="bold" textLength="27.8" lengthAdjust="spacingAndGlyphs">CV</text>
<text x="88.8" y="294.2" font-size="13.0" fill="#111" font-weight="bold" textLength="43.0" lengthAdjust="spacingAndGlyphs">supply</text>
<rect x="78.1" y="490.1" width="62.6" height="39.6" rx="5.5" ry="5.5" fill="#fff" stroke="#111" stroke-width="2.2"/>
<text x="88.6" y="506.9" font-size="17.8" fill="#111" font-weight="bold" textLength="42.4" lengthAdjust="spacingAndGlyphs">HIGH</text>
<text x="86.0" y="524.2" font-size="13.1" fill="#111" font-weight="bold" textLength="48.7" lengthAdjust="spacingAndGlyphs">RELIAB</text>
<rect x="444.6" y="493.4" width="62.5" height="40.2" rx="5.5" ry="5.5" fill="#fff" stroke="#111" stroke-width="2.2"/>
<rect x="452.1" y="497.7" width="12.4" height="12.2" fill="#fff" stroke="#111" stroke-width="1.2"/>
<text x="467.9" y="510.7" font-size="12.9" fill="#111" font-weight="bold" textLength="40.8" lengthAdjust="spacingAndGlyphs">&gt;94%</text>
<text x="451.0" y="528.6" font-size="13.1" fill="#111" font-weight="bold" textLength="50.7" lengthAdjust="spacingAndGlyphs">DRIVER</text>
<rect x="612.6" y="342.5" width="62.3" height="40.1" rx="5.5" ry="5.5" fill="#fff" stroke="#111" stroke-width="2.2"/>
<polygon points="618.1,362 668.5,348.2 668.5,361.3" fill="#df261c"/><line x1="618.1" y1="361.8" x2="668.5" y2="348.4" stroke="#7a1510" stroke-width="0.9"/>
<text x="625.1" y="376.9" font-size="13.2" fill="#111" font-weight="bold" textLength="38.5" lengthAdjust="spacingAndGlyphs">DIMM</text>
<text x="790.6" y="185.1" font-size="11.6" fill="#111" font-weight="bold" textLength="48.4" lengthAdjust="spacingAndGlyphs">thermal</text>
<text x="796.9" y="196.9" font-size="12.3" fill="#111" font-weight="bold" textLength="36.3" lengthAdjust="spacingAndGlyphs">SAFE</text>
<path d="M806.85,212.75 a7.45,7.45 0 0 1 14.9,0 V250 a17.8,17.8 0 1 1 -14.9,0 Z" fill="#fff" stroke="#111" stroke-width="4.3"/>
<path d="M808.7,230.1 H819.9 V251.6 a15.5,15.5 0 1 1 -11.2,0 Z" fill="#1f9e4d"/>
<rect x="785.7" y="213.55" width="13.1" height="2.7" fill="#111"/>
<rect x="785.7" y="220.95" width="13.1" height="2.7" fill="#111"/>
<rect x="785.7" y="228.75" width="13.1" height="2.7" fill="#111"/>
<rect x="785.7" y="235.95" width="13.1" height="2.7" fill="#111"/>
<text x="831.3" y="236.6" font-size="22.0" fill="#111" font-weight="bold" textLength="7.4" lengthAdjust="spacingAndGlyphs">°</text>
<text x="839.0" y="235.4" font-size="20.6" fill="#111" font-weight="bold" textLength="12.3" lengthAdjust="spacingAndGlyphs">C</text>
<path d="M751.9,548.2 a18.3,18.3 0 0 1 36.6,0 Z" fill="#86c426"/>
<rect x="751.9" y="549.6" width="36.6" height="1.6" fill="#86c426"/>
<rect x="754.6" y="555" width="1.6" height="4.0" fill="#86c426"/>
<rect x="757.6" y="555" width="1.6" height="7.1" fill="#86c426"/>
<rect x="760.5" y="555" width="1.6" height="9.2" fill="#86c426"/>
<rect x="763.5" y="555" width="1.6" height="10.5" fill="#86c426"/>
<rect x="766.4" y="555" width="1.6" height="11.3" fill="#86c426"/>
<rect x="769.4" y="555" width="1.6" height="11.5" fill="#86c426"/>
<rect x="772.3" y="555" width="1.6" height="11.3" fill="#86c426"/>
<rect x="775.2" y="555" width="1.6" height="10.5" fill="#86c426"/>
<rect x="778.2" y="555" width="1.6" height="9.2" fill="#86c426"/>
<rect x="781.1" y="555" width="1.6" height="7.2" fill="#86c426"/>
<rect x="784.1" y="555" width="1.6" height="4.1" fill="#86c426"/>
<path d="M770.6,546.5 V539.5" fill="none" stroke="#fff" stroke-width="1.4"/>
<path d="M770.2,541.8 C765.5,542 762.6,539 762.2,534.4 C767.6,534.4 770.2,537.4 770.2,541.8 Z M771,541.4 C771.4,537.4 774.4,534.8 779,535 C778.6,539.4 775.6,541.8 771,541.4 Z" fill="#f4f9e6"/>
<path d="M764,536.2 L769.2,540.6 M777.4,536.4 L772,540.4" fill="none" stroke="#86c426" stroke-width="0.7"/>
<rect x="760.5" y="545.2" width="19" height="1.3" fill="#fff"/>
<path d="M753.2,553.0 H787.2 L786.3,555.6 H754.1 Z" fill="#86c426"/>
<path d="M747.5,530.5 C752,530 756,532 758.5,535" fill="none" stroke="#333" stroke-width="0.8"/>
<path d="M783.5,560 C790,570 796,580 810,581.8" fill="none" stroke="#333" stroke-width="0.8"/>
<text x="795.6" y="541.8" font-family="'DejaVu Sans','Liberation Sans',sans-serif" font-size="14" fill="#1c1c1c" stroke="#1c1c1c" stroke-width="0.5" textLength="57.5" lengthAdjust="spacingAndGlyphs">Futuro</text>
<text x="795.6" y="560" font-family="'DejaVu Sans','Liberation Sans',sans-serif" font-size="14" fill="#1c1c1c" stroke="#1c1c1c" stroke-width="0.5" textLength="66.4" lengthAdjust="spacingAndGlyphs">Lighting</text>
<text x="814.5" y="585" font-family="'Liberation Serif',serif" font-style="italic" font-size="22" fill="#333" textLength="46.8" lengthAdjust="spacingAndGlyphs">design</text>
</g>
<g id="texts">
<text x="80.8" y="55.6" font-size="34.0" fill="#151515" font-weight="normal" font-style="normal" text-anchor="start" textLength="106.9" lengthAdjust="spacingAndGlyphs"  font-family="'DejaVu Sans','Liberation Sans',sans-serif" stroke="#151515" stroke-width="1.60" stroke-linejoin="round">Smart</text>
<text x="201.3" y="55.6" font-size="34.0" fill="#151515" font-weight="normal" font-style="normal" text-anchor="start" textLength="45.7" lengthAdjust="spacingAndGlyphs"  font-family="'DejaVu Sans','Liberation Sans',sans-serif" stroke="#151515" stroke-width="1.60" stroke-linejoin="round">DC</text>
<text x="262.6" y="55.6" font-size="34.0" fill="#151515" font-weight="normal" font-style="normal" text-anchor="start" textLength="64.2" lengthAdjust="spacingAndGlyphs"  font-family="'DejaVu Sans','Liberation Sans',sans-serif" stroke="#151515" stroke-width="1.60" stroke-linejoin="round">LED</text>
<text x="340.5" y="55.6" font-size="34.0" fill="#151515" font-weight="normal" font-style="normal" text-anchor="start" textLength="118.1" lengthAdjust="spacingAndGlyphs"  font-family="'DejaVu Sans','Liberation Sans',sans-serif" stroke="#151515" stroke-width="1.60" stroke-linejoin="round">module</text>
<text x="553.3" y="51.8" font-size="21.6" fill="#b3151c" font-weight="normal" font-style="italic" text-anchor="start" textLength="48.0" lengthAdjust="spacingAndGlyphs"  stroke="#b3151c" stroke-width="0.55" stroke-linejoin="round">High</text>
<text x="612.7" y="51.8" font-size="21.6" fill="#b3151c" font-weight="normal" font-style="italic" text-anchor="start" textLength="86.5" lengthAdjust="spacingAndGlyphs"  stroke="#b3151c" stroke-width="0.55" stroke-linejoin="round">efficient</text>
<text x="711.5" y="51.8" font-size="21.6" fill="#b3151c" font-weight="normal" font-style="italic" text-anchor="start" textLength="29.1" lengthAdjust="spacingAndGlyphs"  stroke="#b3151c" stroke-width="0.55" stroke-linejoin="round">DC</text>
<text x="751.0" y="51.8" font-size="21.6" fill="#b3151c" font-weight="normal" font-style="italic" text-anchor="start" textLength="36.5" lengthAdjust="spacingAndGlyphs"  stroke="#b3151c" stroke-width="0.55" stroke-linejoin="round">LED</text>
<text x="796.9" y="51.8" font-size="21.6" fill="#b3151c" font-weight="normal" font-style="italic" text-anchor="start" textLength="89.6" lengthAdjust="spacingAndGlyphs"  stroke="#b3151c" stroke-width="0.55" stroke-linejoin="round">solution</text>
<text x="620.0" y="74.2" font-size="17.4" fill="#b3151c" font-weight="normal" font-style="normal" text-anchor="start" textLength="23.0" lengthAdjust="spacingAndGlyphs"  font-family="'DejaVu Sans','Liberation Sans',sans-serif" stroke="#b3151c" stroke-width="0.45" stroke-linejoin="round">for</text>
<text x="651.3" y="74.2" font-size="17.4" fill="#b3151c" font-weight="normal" font-style="normal" text-anchor="start" textLength="58.1" lengthAdjust="spacingAndGlyphs"  font-family="'DejaVu Sans','Liberation Sans',sans-serif" stroke="#b3151c" stroke-width="0.45" stroke-linejoin="round">general</text>
<text x="720.8" y="74.2" font-size="17.4" fill="#b3151c" font-weight="normal" font-style="normal" text-anchor="start" textLength="30.2" lengthAdjust="spacingAndGlyphs"  font-family="'DejaVu Sans','Liberation Sans',sans-serif" stroke="#b3151c" stroke-width="0.45" stroke-linejoin="round">and</text>
<text x="759.4" y="74.2" font-size="17.4" fill="#b3151c" font-weight="normal" font-style="normal" text-anchor="start" textLength="56.2" lengthAdjust="spacingAndGlyphs"  font-family="'DejaVu Sans','Liberation Sans',sans-serif" stroke="#b3151c" stroke-width="0.45" stroke-linejoin="round">special</text>
<text x="825.0" y="74.2" font-size="17.4" fill="#b3151c" font-weight="normal" font-style="normal" text-anchor="start" textLength="61.5" lengthAdjust="spacingAndGlyphs"  font-family="'DejaVu Sans','Liberation Sans',sans-serif" stroke="#b3151c" stroke-width="0.45" stroke-linejoin="round">lighting</text>
<text x="318.0" y="90.6" font-size="15.6" fill="#7c7c7c" font-weight="normal" font-style="normal" text-anchor="start" textLength="173.2" lengthAdjust="spacingAndGlyphs" >LED selection according</text>
<text x="193.0" y="112.6" font-size="15.6" fill="#7c7c7c" font-weight="normal" font-style="normal" text-anchor="start" textLength="298.0" lengthAdjust="spacingAndGlyphs" >to your needs, Color, CCT, CRI, flux, costs</text>
<text x="743.8" y="117.0" font-size="15.6" fill="#7c7c7c" font-weight="normal" font-style="normal" text-anchor="start" textLength="119.2" lengthAdjust="spacingAndGlyphs" >solder terminals</text>
<text x="743.8" y="138.8" font-size="15.6" fill="#7c7c7c" font-weight="normal" font-style="normal" text-anchor="start" textLength="76.7" lengthAdjust="spacingAndGlyphs" >on MCPCB</text>
<text x="211.8" y="183.8" font-size="15.6" fill="#7c7c7c" font-weight="normal" font-style="normal" text-anchor="start" textLength="102.0" lengthAdjust="spacingAndGlyphs" >compatible to</text>
<text x="128.0" y="205.8" font-size="15.6" fill="#7c7c7c" font-weight="normal" font-style="normal" text-anchor="start" textLength="185.8" lengthAdjust="spacingAndGlyphs" >various single or multiple</text>
<text x="190.0" y="227.6" font-size="15.6" fill="#7c7c7c" font-weight="normal" font-style="normal" text-anchor="start" textLength="123.8" lengthAdjust="spacingAndGlyphs" >secondary optics</text>
<text x="80.0" y="322.5" font-size="15.6" fill="#7c7c7c" font-weight="normal" font-style="normal" text-anchor="start" textLength="124.5" lengthAdjust="spacingAndGlyphs" >Constant Voltage</text>
<text x="80.0" y="344.5" font-size="15.6" fill="#7c7c7c" font-weight="normal" font-style="normal" text-anchor="start" textLength="76.2" lengthAdjust="spacingAndGlyphs" >42-55 VDC</text>
<text x="76.3" y="555.0" font-size="15.6" fill="#7c7c7c" font-weight="normal" font-style="normal" text-anchor="start" textLength="92.5" lengthAdjust="spacingAndGlyphs" >optional LED</text>
<text x="76.3" y="577.5" font-size="15.6" fill="#7c7c7c" font-weight="normal" font-style="normal" text-anchor="start" textLength="109.2" lengthAdjust="spacingAndGlyphs" >shunts to solve</text>
<text x="77.0" y="600.0" font-size="15.6" fill="#7c7c7c" font-weight="normal" font-style="normal" text-anchor="start" textLength="101.2" lengthAdjust="spacingAndGlyphs" >LED open fails</text>
<text x="409.5" y="556.3" font-size="15.6" fill="#7c7c7c" font-weight="normal" font-style="normal" text-anchor="start" textLength="186.8" lengthAdjust="spacingAndGlyphs" >Integrated high efficiency</text>
<text x="409.5" y="579.3" font-size="15.6" fill="#7c7c7c" font-weight="normal" font-style="normal" text-anchor="start" textLength="226.8" lengthAdjust="spacingAndGlyphs" >secondary CC driver, eff. &gt; 94%</text>
<text x="583.0" y="406.3" font-size="15.6" fill="#7c7c7c" font-weight="normal" font-style="normal" text-anchor="start" textLength="109.0" lengthAdjust="spacingAndGlyphs" >Dimming input</text>
<text x="583.0" y="428.8" font-size="15.6" fill="#7c7c7c" font-weight="normal" font-style="normal" text-anchor="start" textLength="107.0" lengthAdjust="spacingAndGlyphs" >- Analog 1-10V</text>
<text x="583.0" y="450.8" font-size="15.6" fill="#7c7c7c" font-weight="normal" font-style="normal" text-anchor="start" textLength="112.0" lengthAdjust="spacingAndGlyphs" >- PWM (Digital)</text>
<text x="583.0" y="472.6" font-size="15.6" fill="#7c7c7c" font-weight="normal" font-style="normal" text-anchor="start" textLength="222.0" lengthAdjust="spacingAndGlyphs" >- protected PWM (on request)</text>
<text x="740.0" y="316.8" font-size="15.6" fill="#7c7c7c" font-weight="normal" font-style="normal" text-anchor="start" textLength="60.0" lengthAdjust="spacingAndGlyphs" >Thermal</text>
<text x="740.0" y="339.3" font-size="15.6" fill="#7c7c7c" font-weight="normal" font-style="normal" text-anchor="start" textLength="66.3" lengthAdjust="spacingAndGlyphs" >fold back</text>
<text x="740.0" y="361.3" font-size="15.6" fill="#7c7c7c" font-weight="normal" font-style="normal" text-anchor="start" textLength="88.0" lengthAdjust="spacingAndGlyphs" >keeping LED</text>
<text x="740.0" y="383.3" font-size="15.6" fill="#7c7c7c" font-weight="normal" font-style="normal" text-anchor="start" textLength="92.5" lengthAdjust="spacingAndGlyphs" >temperature</text>
<text x="740.0" y="405.8" font-size="15.6" fill="#7c7c7c" font-weight="normal" font-style="normal" text-anchor="start" textLength="28.8" lengthAdjust="spacingAndGlyphs" >safe</text>
</g>
</svg>
</body></html>
